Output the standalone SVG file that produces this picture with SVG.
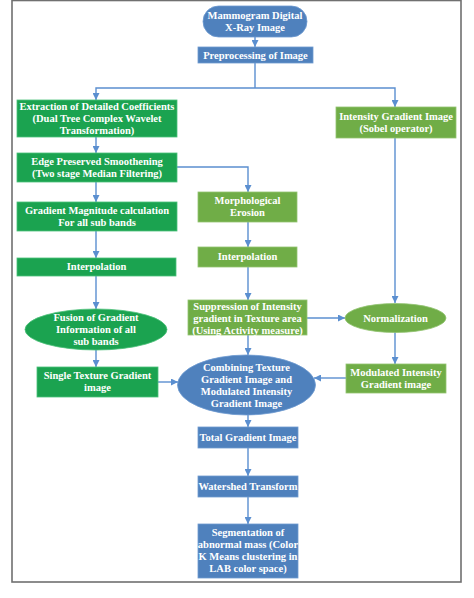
<svg xmlns="http://www.w3.org/2000/svg" width="474" height="598" viewBox="0 0 474 598">
<defs>
<style>
text{font-family:"Liberation Serif","Times New Roman",serif;font-weight:bold;font-size:10.5px;fill:#ffffff;text-anchor:middle}
.blue{fill:#4f81bd;stroke:#6f9bd0;stroke-width:0.8}
.green{fill:#1ba350;stroke:#4cc07a;stroke-width:0.8}
.olive{fill:#70ad47;stroke:#93c472;stroke-width:0.8}
.conn path{fill:none;stroke:#5b8fd0;stroke-width:1.4}
</style>
<marker id="arr" viewBox="0 0 10 10" refX="10" refY="5" markerUnits="userSpaceOnUse" markerWidth="7" markerHeight="7" orient="auto">
<path d="M0,0 L10,5 L0,10 z" fill="#5b8fd0"/>
</marker>
</defs>
<rect x="0" y="0" width="474" height="598" fill="#ffffff"/>
<rect x="12" y="0.5" width="449" height="581.5" fill="none" stroke="#707070" stroke-width="1.6"/>

<g class="conn">
<path d="M255,37 V47" marker-end="url(#arr)"/>
<path d="M255,63 V88"/>
<path d="M255,88 H96 V100" marker-end="url(#arr)"/>
<path d="M255,88 H395 V107" marker-end="url(#arr)"/>
<path d="M96,137 V153" marker-end="url(#arr)"/>
<path d="M177,167 H248 V192" marker-end="url(#arr)"/>
<path d="M96,182 V202" marker-end="url(#arr)"/>
<path d="M248,222 V247" marker-end="url(#arr)"/>
<path d="M96,231 V258" marker-end="url(#arr)"/>
<path d="M248,267 V300" marker-end="url(#arr)"/>
<path d="M96,276 V309" marker-end="url(#arr)"/>
<path d="M395,138 V303" marker-end="url(#arr)"/>
<path d="M307,318 H345" marker-end="url(#arr)"/>
<path d="M96,350 V367" marker-end="url(#arr)"/>
<path d="M395,332 V364" marker-end="url(#arr)"/>
<path d="M248,335 V355" marker-end="url(#arr)"/>
<path d="M158,382 H178" marker-end="url(#arr)"/>
<path d="M346,378 H314" marker-end="url(#arr)"/>
<path d="M248,415 V427" marker-end="url(#arr)"/>
<path d="M248,448 V476" marker-end="url(#arr)"/>
<path d="M248,497 V524" marker-end="url(#arr)"/>
</g>

<g id="mammogram">
<rect class="blue" x="203" y="6" width="104" height="31" rx="15.5"/>
<text x="255" y="19">Mammogram Digital</text>
<text x="255" y="31">X-Ray Image</text>
</g>
<g id="preprocessing">
<rect class="blue" x="198" y="47" width="115" height="16"/>
<text x="255.5" y="59">Preprocessing of Image</text>
</g>
<g id="extraction">
<rect class="green" x="17" y="100" width="160" height="37"/>
<text x="97" y="110">Extraction of Detailed Coefficients</text>
<text x="97" y="122">(Dual Tree Complex Wavelet</text>
<text x="97" y="134">Transformation)</text>
</g>
<g id="edge">
<rect class="green" x="17" y="153" width="160" height="29"/>
<text x="97" y="165">Edge Preserved Smoothening</text>
<text x="97" y="177">(Two stage Median Filtering)</text>
</g>
<g id="gradmag">
<rect class="green" x="17" y="202" width="160" height="29"/>
<text x="97" y="214">Gradient Magnitude calculation</text>
<text x="97" y="226">For all sub bands</text>
</g>
<g id="interp-left">
<rect class="green" x="17" y="258" width="159" height="18"/>
<text x="96.5" y="270">Interpolation</text>
</g>
<g id="fusion">
<ellipse class="green" cx="96" cy="329.5" rx="71" ry="20.5"/>
<text x="96" y="321">Fusion of Gradient</text>
<text x="96" y="333">Information of all</text>
<text x="96" y="345">sub bands</text>
</g>
<g id="single">
<rect class="green" x="37" y="367" width="121" height="30"/>
<text x="97.5" y="379">Single Texture Gradient</text>
<text x="97.5" y="391">image</text>
</g>
<g id="intensity">
<rect class="olive" x="336" y="107" width="120" height="31"/>
<text x="396" y="120">Intensity Gradient Image</text>
<text x="396" y="132">(Sobel operator)</text>
</g>
<g id="morph">
<rect class="olive" x="198" y="192" width="99" height="30"/>
<text x="247.5" y="204">Morphological</text>
<text x="247.5" y="216">Erosion</text>
</g>
<g id="interp-mid">
<rect class="olive" x="198" y="247" width="99" height="20"/>
<text x="247.5" y="260">Interpolation</text>
</g>
<g id="suppression">
<rect class="olive" x="188" y="300" width="119" height="35"/>
<text x="247.5" y="310">Suppression of Intensity</text>
<text x="247.5" y="322">gradient in Texture area</text>
<text x="247.5" y="334">(Using Activity measure)</text>
</g>
<g id="normalization">
<ellipse class="olive" cx="395.5" cy="318" rx="50.5" ry="14.5"/>
<text x="395.5" y="322">Normalization</text>
</g>
<g id="modulated">
<rect class="olive" x="346" y="364" width="100" height="29"/>
<text x="396" y="376">Modulated Intensity</text>
<text x="396" y="388">Gradient image</text>
</g>
<g id="combining">
<ellipse class="blue" cx="246.5" cy="385" rx="69" ry="30"/>
<text x="246.5" y="371">Combining Texture</text>
<text x="246.5" y="383">Gradient Image and</text>
<text x="246.5" y="395">Modulated Intensity</text>
<text x="246.5" y="407">Gradient Image</text>
</g>
<g id="total">
<rect class="blue" x="198" y="427" width="100" height="21"/>
<text x="248" y="441">Total Gradient Image</text>
</g>
<g id="watershed">
<rect class="blue" x="198" y="476" width="100" height="21"/>
<text x="248" y="490">Watershed Transform</text>
</g>
<g id="segmentation">
<rect class="blue" x="198" y="524" width="100" height="54"/>
<text x="248" y="536">Segmentation of</text>
<text x="248" y="548">abnormal mass (Color</text>
<text x="248" y="560">K Means clustering in</text>
<text x="248" y="572">LAB color space)</text>
</g>
</svg>
